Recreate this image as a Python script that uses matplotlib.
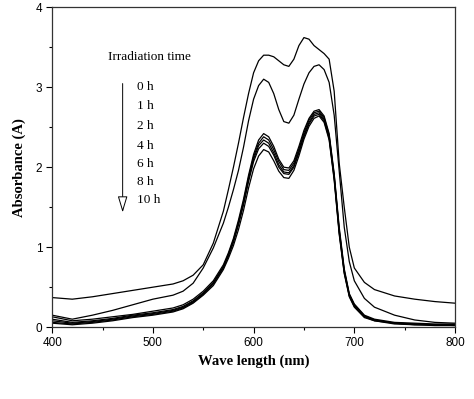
import matplotlib.pyplot as plt
from matplotlib.ticker import MultipleLocator

# wavelength sampling points (nm)
wl = [400, 420, 440, 460, 480, 500, 520, 530, 540, 550, 560, 570, 575, 580, 585,
      590, 595, 600, 605, 610, 615, 620, 625, 630, 635, 640, 645, 650, 655, 660,
      665, 670, 675, 680, 685, 690, 695, 700, 710, 720, 740, 760, 780, 800]

a_0h = [0.37, 0.35, 0.38, 0.42, 0.46, 0.50, 0.54, 0.58, 0.65, 0.78, 1.05, 1.45, 1.72, 2.00, 2.30,
        2.62, 2.92, 3.18, 3.33, 3.40, 3.40, 3.38, 3.33, 3.28, 3.26, 3.35, 3.52, 3.62, 3.60, 3.52,
        3.47, 3.42, 3.35, 2.95, 2.05, 1.50, 1.00, 0.74, 0.56, 0.47, 0.39, 0.35, 0.32, 0.30]

a_1h = [0.15, 0.10, 0.15, 0.21, 0.28, 0.35, 0.40, 0.45, 0.55, 0.74, 0.99, 1.30, 1.50, 1.72, 1.96,
        2.25, 2.58, 2.85, 3.02, 3.10, 3.06, 2.92, 2.72, 2.57, 2.55, 2.65, 2.85, 3.04, 3.18, 3.26,
        3.28, 3.22, 3.06, 2.65, 1.95, 1.25, 0.82, 0.58, 0.36, 0.25, 0.15, 0.09, 0.06, 0.05]

a_2h = [0.13, 0.08, 0.10, 0.13, 0.16, 0.20, 0.24, 0.28, 0.35, 0.45, 0.58, 0.78, 0.93, 1.11, 1.34,
        1.60, 1.90, 2.16, 2.34, 2.42, 2.38, 2.26, 2.10, 2.00, 1.99, 2.08, 2.26, 2.46, 2.61, 2.70,
        2.72, 2.64, 2.42, 1.92, 1.25, 0.73, 0.42, 0.29, 0.15, 0.10, 0.06, 0.05, 0.04, 0.04]

a_4h = [0.10, 0.06, 0.08, 0.11, 0.15, 0.18, 0.22, 0.26, 0.33, 0.43, 0.56, 0.76, 0.91, 1.09, 1.31,
        1.57, 1.87, 2.13, 2.30, 2.38, 2.34, 2.22, 2.07, 1.97, 1.96, 2.05, 2.23, 2.43, 2.59, 2.68,
        2.70, 2.62, 2.40, 1.90, 1.22, 0.71, 0.41, 0.28, 0.14, 0.09, 0.05, 0.04, 0.03, 0.03]

a_6h = [0.08, 0.05, 0.07, 0.10, 0.14, 0.17, 0.21, 0.25, 0.32, 0.42, 0.55, 0.75, 0.90, 1.08, 1.30,
        1.55, 1.85, 2.10, 2.27, 2.34, 2.30, 2.18, 2.03, 1.94, 1.93, 2.02, 2.20, 2.40, 2.56, 2.66,
        2.68, 2.60, 2.38, 1.88, 1.20, 0.70, 0.40, 0.27, 0.14, 0.09, 0.05, 0.04, 0.03, 0.03]

a_8h = [0.06, 0.04, 0.06, 0.09, 0.13, 0.16, 0.20, 0.24, 0.31, 0.41, 0.54, 0.74, 0.89, 1.06, 1.28,
        1.53, 1.82, 2.07, 2.23, 2.30, 2.26, 2.15, 2.00, 1.92, 1.91, 2.00, 2.18, 2.38, 2.54, 2.64,
        2.66, 2.58, 2.36, 1.86, 1.18, 0.68, 0.39, 0.26, 0.13, 0.08, 0.05, 0.03, 0.03, 0.02]

a_10h = [0.05, 0.03, 0.05, 0.08, 0.12, 0.15, 0.19, 0.23, 0.30, 0.40, 0.52, 0.72, 0.86, 1.02, 1.22,
         1.46, 1.74, 1.98, 2.14, 2.22, 2.19, 2.08, 1.95, 1.87, 1.86, 1.96, 2.14, 2.35, 2.51, 2.61,
         2.64, 2.56, 2.34, 1.84, 1.16, 0.67, 0.38, 0.25, 0.12, 0.08, 0.04, 0.03, 0.02, 0.02]

series = [a_0h, a_1h, a_2h, a_4h, a_6h, a_8h, a_10h]
labels = ['0 h', '1 h', '2 h', '4 h', '6 h', '8 h', '10 h']
label_y = [3.0, 2.76, 2.51, 2.27, 2.04, 1.81, 1.59]

fig = plt.figure(figsize=(4.74, 3.99), dpi=100)
ax = fig.add_axes([0.110, 0.180, 0.850, 0.802])

for a in series:
    ax.plot(wl, a, c='black', lw=0.9)

ax.set_xlim(400, 800)
ax.set_ylim(0, 4)
ax.xaxis.set_major_locator(MultipleLocator(100))
ax.xaxis.set_minor_locator(MultipleLocator(50))
ax.yaxis.set_major_locator(MultipleLocator(1))
ax.yaxis.set_minor_locator(MultipleLocator(0.5))
ax.tick_params(which='major', length=4, width=0.8, direction='out', labelsize=8.5, pad=3)
ax.tick_params(which='minor', length=2.5, width=0.8, direction='out')
for lab in ax.get_xticklabels() + ax.get_yticklabels():
    lab.set_family('Liberation Sans')
for sp in ax.spines.values():
    sp.set_linewidth(0.9)
    sp.set_color('#333333')

ax.set_xlabel('Wave length (nm)', family='Liberation Serif', fontweight='bold',
              fontsize=10.5, labelpad=4)
ax.set_ylabel('Absorbance (A)', family='Liberation Serif', fontweight='bold',
              fontsize=10.5, labelpad=7)

ax.text(497, 3.38, 'Irradiation time', family='Liberation Serif', fontsize=9.5,
        ha='center', va='center')
for lab, y in zip(labels, label_y):
    ax.text(484, y, lab, family='Liberation Serif', fontsize=9.5, ha='left', va='center')

ax.annotate('', xy=(470, 1.40), xytext=(470, 3.08),
            arrowprops=dict(arrowstyle='-|>,head_length=1.0,head_width=0.3',
                            fc='white', ec='black', lw=0.7))

fig.savefig('out.png', dpi=100)
